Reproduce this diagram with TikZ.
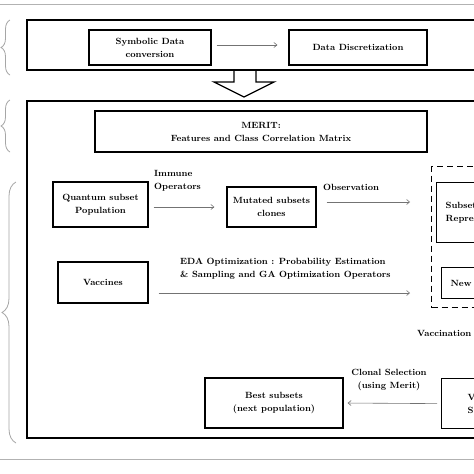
\documentclass[tikz,border=0pt]{standalone}
\usetikzlibrary{positioning,arrows.meta,decorations.pathreplacing}
\tikzset{every node/.style={font=\fontsize{9}{13}\selectfont\bfseries},
  box/.style={draw, line width=1.3pt, align=center, inner sep=0pt},
  frame/.style={draw, line width=1.6pt},
  flow/.style={draw=black!55, line width=0.6pt, -{Straight Barb[length=3pt,width=5pt]}},
  lbl/.style={inner sep=0pt, align=left},
  curly/.style={draw=black!35, line width=0.8pt, decorate, decoration={brace, amplitude=#1}}}

\begin{document}
\begin{tikzpicture}[x=1pt,y=-1pt]
  \useasboundingbox (0,0) rectangle (474,474);
  \clip (0,0) rectangle (474,474);
  \fill[white] (0,0) rectangle (474,474);
  % page rules and stage braces
  \draw[black!30, line width=0.8pt] (0,4) -- (474,4);
  \draw[black!30, line width=0.8pt] (0,459) -- (474,459);
  \draw[curly=9pt] (10,75) -- (10,20);
  \draw[curly=9pt] (10,152) -- (10,100);
  \draw[curly=14pt] (16,443) -- (16,182);
  % stage frames
  \draw[frame] (27,20) rectangle (490,70);
  \draw[frame] (27,101) rectangle (490,438);
  % preprocessing
  \node[box, minimum width=122pt, minimum height=35pt] (sdc) at (150,47.5) {Symbolic Data\\conversion};
  \node[box, minimum width=138pt, minimum height=35pt] (dd) at (358,47.5) {Data Discretization};
  \draw[flow, shorten <=5pt, shorten >=11pt] ([yshift=2.5pt]sdc.east) -- ([yshift=2.5pt]sdc.east -| dd.west);
  \draw[line width=1.3pt] (234,70) -- (234,82) -- (214,82) -- (244,97) -- (274,82) -- (256,82) -- (256,70);
  % selection loop
  \node[box, minimum width=332pt, minimum height=41pt] (merit) at (261,131.5) {MERIT:\\Features and Class Correlation Matrix};
  \node[box, minimum width=95pt, minimum height=45pt] (qsp) at (100.5,204.5) {Quantum subset\\Population};
  \node[box, minimum width=89pt, minimum height=40pt] (msc) at (271.5,207) {Mutated subsets\\clones};
  \node[box, minimum width=90pt, minimum height=41pt] (vac) at (103,282.5) {Vaccines};
  \node[draw, line width=1.3pt, dash pattern=on 6pt off 4pt, minimum width=100pt, minimum height=141pt,
    anchor=north west, inner sep=0pt] (grp) at (431,166) {};
  \node[box, anchor=north west, text width=80pt, align=left, inner xsep=9pt, minimum height=60pt] (ssr) at (436,182) {Subsets\\Representation};
  \node[box, anchor=north west, text width=60pt, align=left, inner xsep=9pt, minimum height=31pt] (new) at (441,267) {New};
  \node[box, anchor=north west, text width=60pt, align=left, inner xsep=26pt, minimum height=50pt] (vsub) at (441,378) {Vaccinated\\Subsets};
  \node[box, minimum width=138pt, minimum height=50pt] (best) at (274,403) {Best subsets\\(next population)};

  \draw[flow, shorten <=5pt, shorten >=12pt] (qsp.east |- msc.west) -- (msc.west);
  \node[lbl, anchor=west] (imm) at (154,181) {Immune\\Operators};
  \draw[flow, shorten <=10pt, shorten >=21pt] ([yshift=5pt]msc.east) -- ([yshift=5pt]msc.east -| grp.west);
  \node[lbl, anchor=west] (obs) at (323,187) {Observation};
  \draw[flow, shorten <=10pt, shorten >=21pt] ([yshift=-10.5pt]vac.east) -- ([yshift=-10.5pt]vac.east -| grp.west);
  \node[lbl, anchor=west] (eda) at (180,268.5) {EDA Optimization : Probability Estimation\\\& Sampling and GA Optimization Operators};
  \node[lbl, anchor=west] (vacn) at (417,333) {Vaccination};
  \draw[flow, shorten <=4pt, shorten >=4pt] (vsub.west) -- (best.east);
  \node[lbl, align=center] (cs) at (389,380) {Clonal Selection\\(using Merit)};
\end{tikzpicture}
\end{document}
